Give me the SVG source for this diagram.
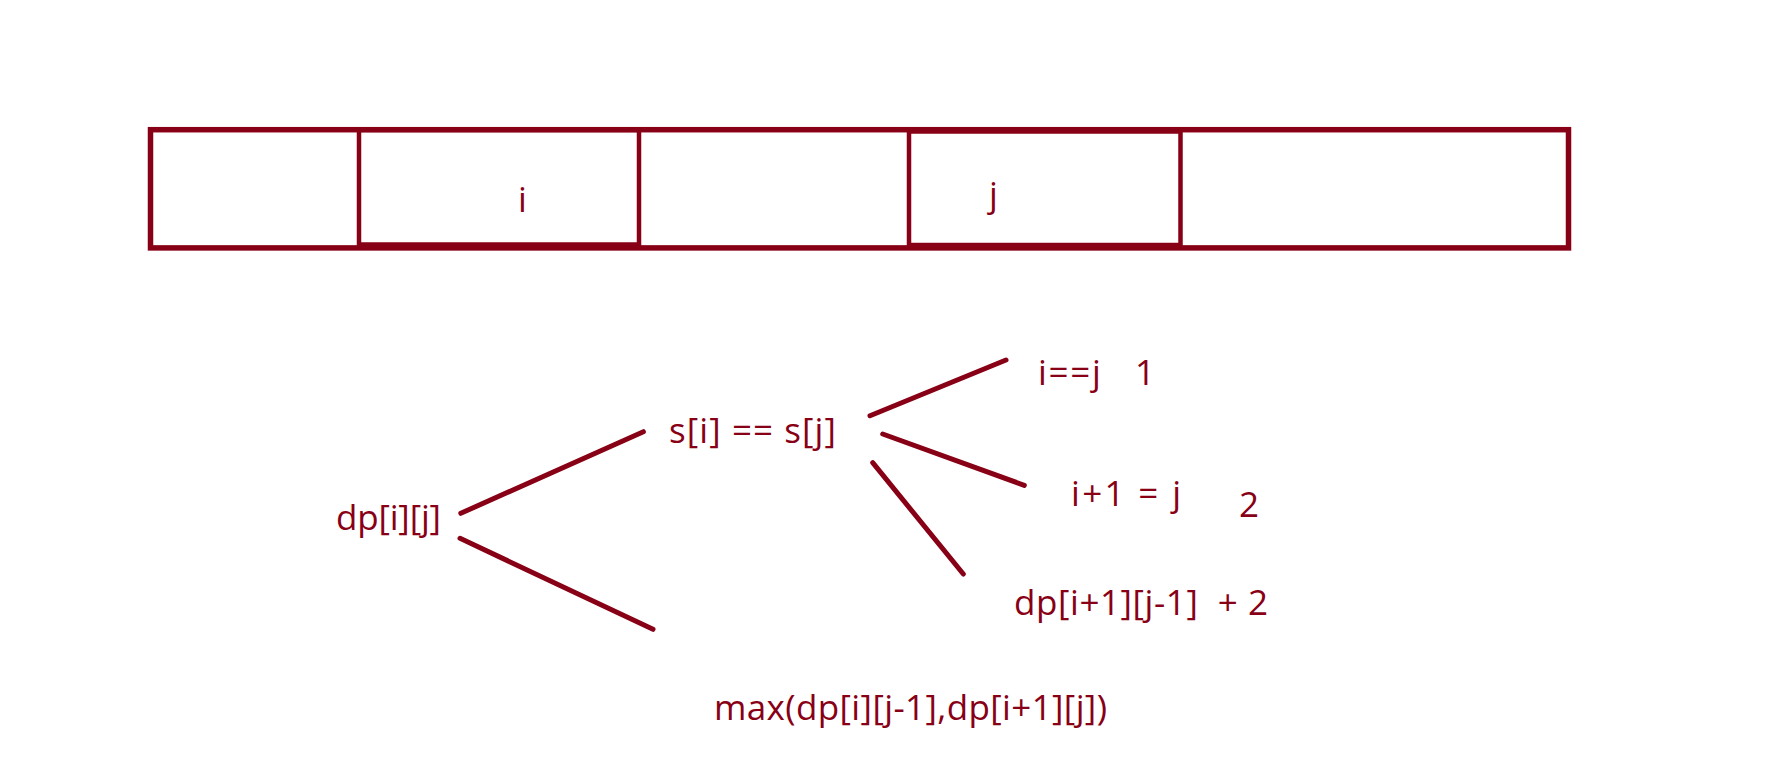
<svg xmlns="http://www.w3.org/2000/svg" width="1775" height="783" viewBox="0 0 1775 783">
<style>
.box{fill:none;stroke:#880015}
.ln{stroke:#880015;stroke-width:5;stroke-linecap:round;fill:none}
text{font-family:"Open Sans","Noto Sans","Liberation Sans",sans-serif;font-size:35px;fill:#880015}
</style>
<rect width="1775" height="783" fill="#ffffff"/>
<g id="array">
<rect class="box" x="150.5" y="129.7" width="1418" height="118.2" stroke-width="5.5"/>
<rect class="box" x="359" y="130" width="280" height="114.5" stroke-width="4.5"/>
<rect class="box" x="909" y="131.5" width="271.5" height="113.5" stroke-width="4.5"/>
</g>
<g id="label-i"><text x="518" y="212" font-size="36">i</text></g>
<g id="label-j"><text x="989" y="207" font-size="36">j</text></g>
<g id="node-dp"><text x="336" y="530" textLength="105">dp[i][j]</text></g>
<g id="node-eq"><text x="669" y="443" textLength="167" xml:space="preserve">s[i] == s[j]</text></g>
<g id="node-ieqj"><text x="1038" y="385" textLength="117" xml:space="preserve">i==j   1</text></g>
<g id="node-i1j"><text x="1071" y="506" textLength="110" xml:space="preserve">i+1 = j</text></g>
<g id="node-two"><text x="1239" y="517">2</text></g>
<g id="node-dp2"><text x="1014" y="615" textLength="254" xml:space="preserve">dp[i+1][j-1]  + 2</text></g>
<g id="node-max"><text x="714" y="720" textLength="393">max(dp[i][j-1],dp[i+1][j])</text></g>
<g id="connectors">
<line class="ln" x1="460.8" y1="513.3" x2="643.4" y2="431.7"/>
<line class="ln" x1="460" y1="538.3" x2="653" y2="629.3"/>
<line class="ln" x1="870" y1="415.7" x2="1006" y2="360"/>
<line class="ln" x1="882.7" y1="434" x2="1024.3" y2="485.3"/>
<line class="ln" x1="872.7" y1="462.7" x2="963.3" y2="574"/>
</g>
</svg>
